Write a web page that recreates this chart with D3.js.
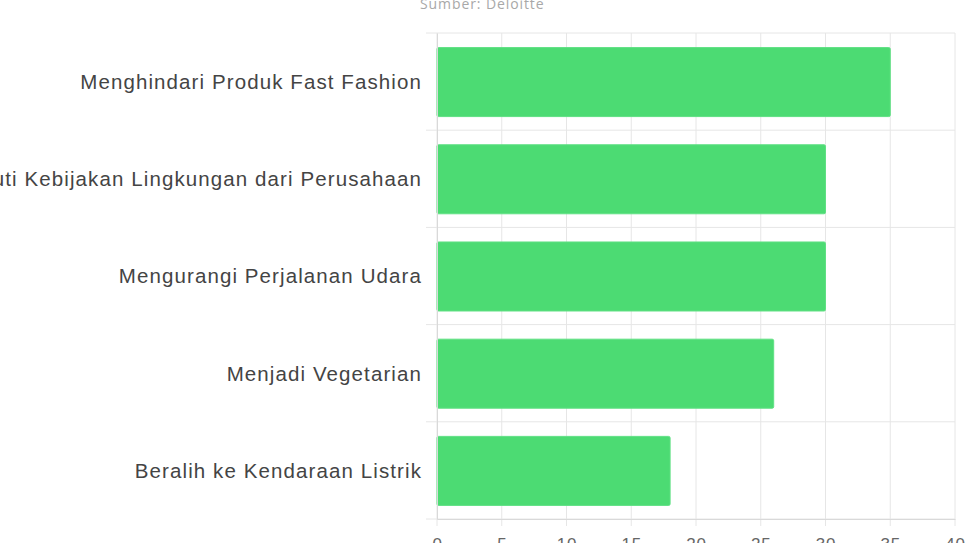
<!DOCTYPE html>
<html>
<head>
<meta charset="utf-8">
<script src="https://cdn.jsdelivr.net/npm/d3@7"></script>
<style>
  body { margin: 0; background: #fff; }
  svg { display: block; font-family: "Open Sans", sans-serif; }
</style>
</head>
<body>
<svg id="chart" width="968" height="543"></svg>
<script>
// Chart data:
var categories = [
  "Menghindari Produk Fast Fashion",
  "Mengikuti Kebijakan Lingkungan dari Perusahaan",
  "Mengurangi Perjalanan Udara",
  "Menjadi Vegetarian",
  "Beralih ke Kendaraan Listrik"
];
var values = [35, 30, 30, 26, 18];
var xTicks = [0, 5, 10, 15, 20, 25, 30, 35, 40];
var sourceText = "Sumber: Deloitte";

// Figure proportions:
var plot_left = 437,
    plot_right = 955,
    plot_top = 33,
    plot_bottom = 519;

var svg = d3.select("#chart");

var x = d3.scaleLinear()
  .domain([0, 40])
  .range([plot_left, plot_right])
;
var y = d3.scaleBand()
  .domain(categories)
  .range([plot_top, plot_bottom])
;
var bw = y.bandwidth();

// Subtitle (title is cut off above):
svg.append("text")
  .attr("x", 420)
  .attr("y", 9)
  .style("font-size", "14px")
  .style("letter-spacing", "0.9px")
  .style("fill", "#a8a8a8")
  .text(sourceText)
;

// Vertical grid lines:
svg.append("g")
  .selectAll("line")
  .data(xTicks)
  .enter()
  .append("line")
    .attr("x1", d => x(d))
    .attr("x2", d => x(d))
    .attr("y1", plot_top)
    .attr("y2", plot_bottom + 7)
    .attr("stroke", "#e6e6e6")
    .attr("stroke-width", 1)
;
// Horizontal grid lines at band edges:
var edges = categories.map(c => y(c)).concat([plot_bottom]);
svg.append("g")
  .selectAll("line")
  .data(edges)
  .enter()
  .append("line")
    .attr("x1", plot_left - 11)
    .attr("x2", plot_right)
    .attr("y1", d => d)
    .attr("y2", d => d)
    .attr("stroke", "#e6e6e6")
    .attr("stroke-width", 1)
;

// Bars:
svg.append("g")
  .selectAll("rect")
  .data(values)
  .enter()
  .append("rect")
    .attr("x", x(0))
    .attr("y", (d, i) => y(categories[i]) + bw * 0.15)
    .attr("width", d => x(d) - x(0))
    .attr("height", bw * 0.71)
    .attr("rx", 1.5)
    .attr("fill", "#4cdb73")
    .attr("stroke", "#5fe083")
    .attr("stroke-width", 1)
;

// Axes:
var xAxis = svg.append("g")
  .attr("transform", "translate(0," + plot_bottom + ")")
  .call(d3.axisBottom(x).tickValues(xTicks).tickSize(0).tickPadding(19))
;
xAxis.select(".domain").attr("stroke", "#d9d9d9");
xAxis.selectAll("text")
  .style("font-size", "17px")
  .style("letter-spacing", "0.8px")
  .style("fill", "#666")
;

var yAxis = svg.append("g")
  .attr("transform", "translate(" + plot_left + ",0)")
  .call(d3.axisLeft(y).tickSize(0).tickPadding(15))
;
yAxis.select(".domain").attr("stroke", "#d9d9d9");
yAxis.selectAll("text")
  .attr("dy", "0.36em")
  .style("font-size", "20.5px")
  .style("letter-spacing", "1.1px")
  .style("fill", "#444")
;
</script>
</body>
</html>
